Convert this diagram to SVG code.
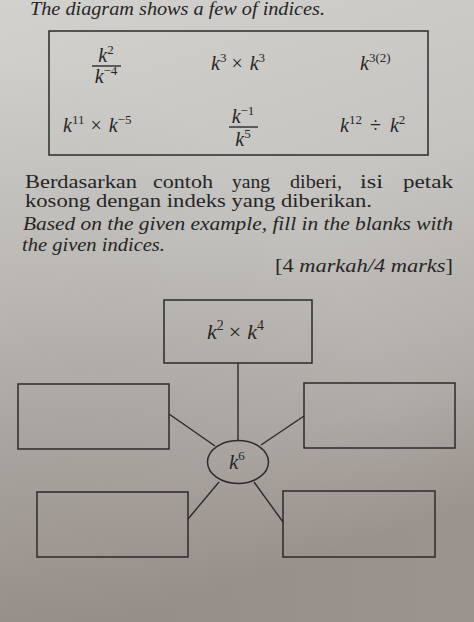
<svg xmlns="http://www.w3.org/2000/svg" width="474" height="622" viewBox="0 0 474 622">
<defs>
<linearGradient id="bg" x1="0" y1="0" x2="0.25" y2="1">
<stop offset="0" stop-color="#d2d1ce"/>
<stop offset="0.45" stop-color="#c6c4c1"/>
<stop offset="0.8" stop-color="#b0aba7"/>
<stop offset="1" stop-color="#9a938e"/>
</linearGradient>
<radialGradient id="shade" cx="0" cy="1" r="0.9">
<stop offset="0" stop-color="#8c847e" stop-opacity="0.5"/>
<stop offset="1" stop-color="#8c847e" stop-opacity="0"/>
</radialGradient>
</defs>
<style>
.s{fill:none;stroke:#2b2b2b;stroke-width:1.5}
.c{stroke:#2b2b2b;stroke-width:1.4}
text{fill:#262626;font-family:"Liberation Serif","DejaVu Serif",serif}
.it{font-style:italic}
.m{font-size:20px}
.k{font-style:italic}
.sup{font-size:13px}
.p{font-size:19px}
</style>
<rect width="474" height="622" fill="url(#bg)"/>
<rect width="474" height="622" fill="url(#shade)"/>

<text class="it" x="30" y="15" font-size="18" textLength="295" lengthAdjust="spacingAndGlyphs">The diagram shows a few of indices.</text>

<g id="examples">
<rect class="s" x="49" y="31" width="379" height="124"/>
<g id="ex1">
<text class="m" x="106" y="62" text-anchor="middle"><tspan class="k">k</tspan><tspan class="sup" dy="-8">2</tspan></text>
<line class="c" x1="92" y1="66" x2="121" y2="66" stroke-width="1"/>
<text class="m" x="106" y="83" text-anchor="middle"><tspan class="k">k</tspan><tspan class="sup" dy="-8">−4</tspan></text>
</g>
<g id="ex2">
<text class="m" x="211" y="70"><tspan class="k">k</tspan><tspan class="sup" dy="-8">3</tspan><tspan dy="8" dx="5">×</tspan><tspan class="k" dx="7">k</tspan><tspan class="sup" dy="-8">3</tspan></text>
</g>
<g id="ex3">
<text class="m" x="360" y="70"><tspan class="k">k</tspan><tspan class="sup" dy="-8">3(2)</tspan></text>
</g>
<g id="ex4">
<text class="m" x="63" y="132"><tspan class="k">k</tspan><tspan class="sup" dy="-8">11</tspan><tspan dy="8" dx="6">×</tspan><tspan class="k" dx="7">k</tspan><tspan class="sup" dy="-8">−5</tspan></text>
</g>
<g id="ex5">
<text class="m" x="243" y="123" text-anchor="middle"><tspan class="k">k</tspan><tspan class="sup" dy="-8">−1</tspan></text>
<line class="c" x1="229" y1="127" x2="258" y2="127" stroke-width="1"/>
<text class="m" x="243" y="146" text-anchor="middle"><tspan class="k">k</tspan><tspan class="sup" dy="-8">5</tspan></text>
</g>
<g id="ex6">
<text class="m" x="340" y="132"><tspan class="k">k</tspan><tspan class="sup" dy="-8">12</tspan><tspan dy="8" dx="8">÷</tspan><tspan class="k" dx="9">k</tspan><tspan class="sup" dy="-8">2</tspan></text>
</g>
</g>

<text class="p" x="25" y="188" textLength="112" lengthAdjust="spacingAndGlyphs">Berdasarkan</text>
<text class="p" x="153" y="188" textLength="60" lengthAdjust="spacingAndGlyphs">contoh</text>
<text class="p" x="232" y="188" textLength="38" lengthAdjust="spacingAndGlyphs">yang</text>
<text class="p" x="290" y="188" textLength="52" lengthAdjust="spacingAndGlyphs">diberi,</text>
<text class="p" x="360" y="188" textLength="23" lengthAdjust="spacingAndGlyphs">isi</text>
<text class="p" x="403" y="188" textLength="50" lengthAdjust="spacingAndGlyphs">petak</text>
<text class="p" x="25" y="207" textLength="347" lengthAdjust="spacingAndGlyphs">kosong dengan indeks yang diberikan.</text>
<text class="p it" x="23" y="230" textLength="430" lengthAdjust="spacingAndGlyphs">Based on the given example, fill in the blanks with</text>
<text class="p it" x="22" y="251" textLength="143" lengthAdjust="spacingAndGlyphs">the given indices.</text>
<text class="p" x="275" y="272" textLength="178" lengthAdjust="spacingAndGlyphs">[4 <tspan class="it">markah/4 marks</tspan>]</text>

<g id="connectors">
<line class="c" x1="238" y1="363" x2="238" y2="441"/>
<line class="c" x1="169" y1="414" x2="215" y2="446"/>
<line class="c" x1="304" y1="416" x2="261" y2="445"/>
<line class="c" x1="219" y1="482" x2="188" y2="519"/>
<line class="c" x1="254" y1="482" x2="283" y2="522"/>
</g>

<g id="top">
<rect class="s" x="164" y="300" width="148" height="63"/>
<text x="207" y="339" font-size="22"><tspan class="k">k</tspan><tspan font-size="14" dy="-9">2</tspan><tspan dy="9" dx="5">×</tspan><tspan class="k" dx="6">k</tspan><tspan font-size="14" dy="-9">4</tspan></text>
</g>
<g id="left">
<rect class="s" x="18" y="384" width="151" height="65"/>
</g>
<g id="right">
<rect class="s" x="304" y="383" width="151" height="65"/>
</g>
<g id="bottomleft">
<rect class="s" x="37" y="492" width="151" height="65"/>
</g>
<g id="bottomright">
<rect class="s" x="283" y="491" width="152" height="66"/>
</g>
<g id="center">
<ellipse class="s" cx="238" cy="462" rx="30.5" ry="21.5"/>
<text x="229" y="469" font-size="21"><tspan class="k">k</tspan><tspan font-size="13" dy="-9">6</tspan></text>
</g>
</svg>
